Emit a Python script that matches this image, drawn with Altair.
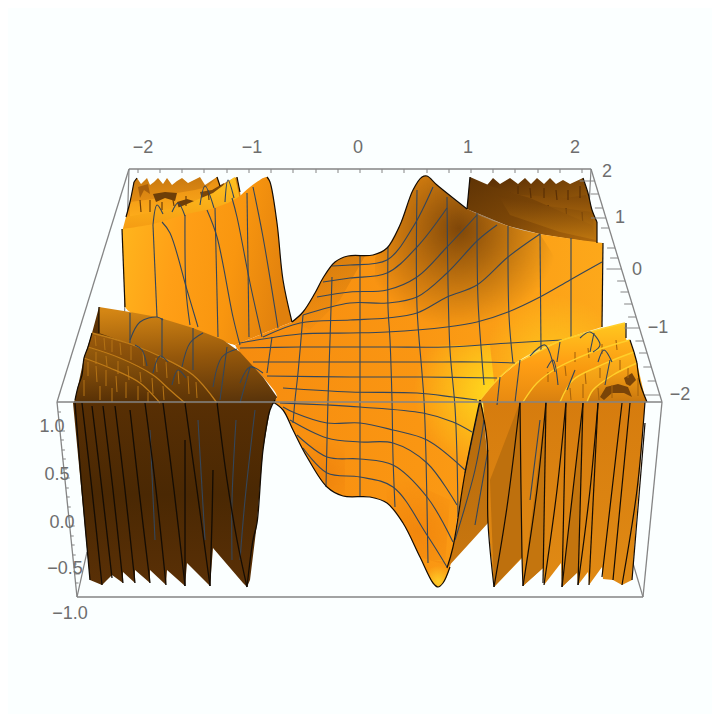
import altair as alt
import pandas as pd

BG = "#FBFFFF"
BOX = "#858585"
TXT = "#6E6E6E"
MESH = "#34465A"
INK = "#140C04"

# ---- surface outlines ----
BACK_LEFT_JAG = [(126,217),(130,202),(134,182),(137,178),(141,184),(147,178),(150,185),(154,182),(158,178),(163,184),(167,178),(172,185),(177,181),(182,178),(188,183),(194,180),(200,177),(205,185),(211,181),(217,177),(220,186),(228,181),(237,177),(240,192),(243,210),(130,225)]
BACK_LEFT_MID = [(130,202),(153,199),(177,193),(195,190),(207,187),(217,177),(224,195),(130,220)]
BACK_LEFT_PATCH_A = [(153,194),(165,192),(177,193),(175,201),(165,198),(156,202)]
BACK_LEFT_PATCH_B = [(177,202),(187,199),(197,202),(195,208),(185,206),(179,209)]
BACK_LEFT_PATCH_C = [(138,187),(148,184),(150,194),(144,190),(140,198)]
BACK_LEFT_PATCH_D = [(200,192),(212,190),(224,183),(222,192),(210,196),(202,199)]
BACK_LEFT_RIDGE = [(126,217),(153,212),(180,207),(213,193),(233,178),(235,177),(239,195),(240,212),(122,232)]
LEFT_WALL = [(122,229),(122,229),(153,224),(183,215),(217,207),(237,198),(250,187),(267,177),(270,182),(277,223),(283,280),(292,322),(292,322),(235,345),(235,345),(130,312),(125,307),(125,307)]
RIGHT_JAG = [(493,178),(500,184),(510,178),(518,184),(525,178),(531,184),(537,178),(544,184),(550,178),(556,184),(563,180),(570,184),(583,178),(588,193),(592,210),(597,222),(597,243),(540,234),(467,209)]
RIGHT_MID = [(490,190),(500,190),(520,195),(540,196),(565,198),(586,195),(592,210),(596,240),(510,220)]
RIGHT_WALL = [(470,177),(493,187),(530,198),(592,225),(597,243),(540,234),(508,226),(467,209)]
RIGHT_STRIP = [(498,195),(540,205),(592,212),(596,240),(560,232),(510,215)]
MAIN_SHEET = [(235,345),(235,345),(292,322),(292,322),(303,312),(315,293),(323,278),(335,262),(348,256),(373,255),(387,248),(400,225),(413,190),(422,177),(427,176),(437,185),(467,209),(508,226),(540,234),(603,243),(603,243),(602,327),(602,327),(560,341),(523,358),(500,377),(480,400),(480,400),(467,470),(458,513),(450,567),(443,583),(438,587),(433,583),(420,557),(403,523),(387,503),(370,497),(343,496),(327,487),(307,457),(293,430),(283,410),(273,402),(273,402),(277,397),(263,377),(243,357)]
SHADE_UPPER = [(375,257),(387,248),(400,225),(413,190),(422,177),(427,176),(437,185),(467,209),(508,226),(540,234),(575,290),(500,345),(410,345),(375,300)]
SHADE_LEFT = [(292,322),(303,312),(315,293),(323,278),(335,262),(348,256),(365,256),(340,300),(310,330)]
GLOW_LOW = [(400,345),(490,345),(495,390),(470,470),(440,480),(400,430)]
GLOW_RIGHT = [(490,290),(603,265),(603,330),(523,358),(490,385)]
TIP_GLOW = [(426,562),(450,562),(443,583),(438,587),(433,583)]
DEEP_LOW = [(297,430),(345,440),(345,495),(327,487),(307,457)]
DEEP_TIP = [(385,470),(450,500),(445,565),(420,557),(403,523),(387,503)]

RIGHT_RIDGE_ONE = [(480,400),(497,380),(517,363),(540,351),(560,341),(597,330),(625,323),(626,338),(640,402),(480,402)]
RIGHT_RIDGE_TWO = [(523,402),(537,383),(557,368),(580,357),(603,348),(630,340),(634,352),(642,402)]
RIGHT_RIDGE_THREE = [(560,402),(573,380),(597,367),(613,360),(634,352),(637,363),(646,402)]
RIGHT_RIDGE_FOUR = [(587,402),(593,390),(613,375),(637,363),(640,383),(647,402)]
RIGHT_SHADE_A = [(560,376),(580,366),(600,360),(625,350),(630,354),(605,365),(590,366),(572,378),(562,392)]
RIGHT_SHADE_B = [(590,383),(602,373),(618,368),(630,362),(632,366),(612,375),(595,387)]
RIGHT_SHADE_C = [(600,397),(606,387),(618,384),(628,387),(632,397),(624,393),(612,393),(604,400)]
RIGHT_SHADE_D = [(624,378),(632,373),(636,380),(630,386),(626,384)]
RIGHT_FIRST = [(480,400),(483,410),(488,462),(488,523),(447,568),(453,547),(465,473)]
RIGHT_SPIKES = [(483,402),(645,402),(632,580),(622,585),(613,580),(603,579),(602,567),(589,585),(588,572),(578,585),(577,572),(562,587),(561,563),(544,585),(543,568),(523,586),(522,558),(494,587),(488,523),(488,462)]
RIGHT_DARK_A = [(490,480),(520,402),(522,557),(494,587)]
RIGHT_DARK_B = [(546,402),(543,568),(523,586)]
RIGHT_DARK_C = [(583,403),(578,572),(562,587)]
RIGHT_DARK_D = [(622,403),(603,570),(612,490)]

DOME_BASE = [(99,307),(277,397),(273,404),(73,404),(75,400),(84,358),(92,333)]
DOME_ONE = [(99,307),(130,312),(157,317),(193,328),(223,340),(240,352),(263,377),(277,397),(273,404),(217,404),(193,375),(157,355),(127,343),(99,333)]
DOME_TWO = [(92,333),(127,343),(157,355),(193,375),(217,403),(185,403),(170,390),(153,375),(120,358),(88,347)]
DOME_THREE = [(88,347),(120,358),(153,375),(170,390),(185,403),(160,403),(140,383),(110,368),(84,358)]
DOME_FOUR = [(84,358),(110,368),(140,383),(160,403),(73,403),(75,400),(78,387),(82,375)]
FRONT_LEFT = [(73,403),(273,402),(270,410),(263,450),(257,523),(250,580),(247,587),(243,583),(213,548),(210,586),(187,563),(185,586),(167,570),(166,585),(150,570),(150,583),(135,570),(135,583),(123,572),(123,583),(112,575),(102,585),(90,580)]

# ---- rims along ripple crests ----
RIMS_RIGHT = [[(480,400),(497,380),(517,363),(540,351),(560,341),(597,330),(625,323)],
              [(523,402),(537,383),(557,368),(580,357),(603,348),(630,340)],
              [(560,402),(573,380),(597,367),(613,360),(634,352)],
              [(587,402),(593,390),(613,375),(637,363)]]
RIMS_LEFT = [[(92,333),(127,343),(157,355),(193,375),(217,403)],
             [(88,347),(120,358),(153,375),(170,390),(185,403)],
             [(84,358),(110,368),(140,383),(160,403)]]

# ---- fine streaks on the ripples ----
STREAKS_BRIGHT = [[(95,336),(96,346)],[(104,338),(105,350)],[(112,340),(112,352)],[(120,343),(121,355)],[(131,346),(131,360)],
                  [(143,352),(144,366)],[(156,358),(157,372)],[(166,362),(167,378)],[(178,370),(179,384)],[(188,376),(189,394)],
                  [(196,382),(197,398)],[(96,352),(96,364)],[(106,356),(107,366)],[(118,361),(118,374)],[(128,366),(129,380)],
                  [(140,372),(141,382)],[(152,378),(153,394)],[(163,386),(164,400)],[(88,362),(88,376)],[(96,366),(97,382)],
                  [(106,370),(106,386)],[(116,376),(117,392)],[(126,382),(126,398)],[(138,386),(138,400)],[(148,392),(148,402)],
                  [(84,380),(84,396)],[(100,386),(100,400)],[(112,388),(112,402)]]
STREAKS_DARK = [[(140,200),(141,212)],[(150,200),(150,212)],[(162,202),(162,210)],[(173,200),(174,206)],[(186,196),(186,206)],
                [(208,190),(209,200)],[(518,186),(518,194)],[(530,188),(531,198)],[(544,188),(544,198)],[(556,190),(557,200)],
                [(568,190),(568,200)],[(580,186),(580,198)],[(530,200),(531,212)],[(548,205),(549,218)],[(566,208),(567,222)],
                [(582,212),(583,226)],[(510,192),(511,206)]]
STREAKS_RIGHT = [[(575,352),(575,362)],[(588,348),(589,358)],[(602,344),(602,354)],[(616,340),(617,350)],[(548,372),(548,382)],
                 [(565,366),(566,376)],[(585,372),(586,384)],[(600,368),(600,378)],[(620,360),(620,370)],[(570,388),(571,400)],
                 [(583,384),(583,398)],[(628,368),(628,378)],[(598,388),(599,400)],[(612,385),(612,398)],[(638,378),(638,396)]]

# ---- black spike edges on the near walls ----
SPIKES_LEFT = [
    [(75,403),(82,490),(90,580)], [(82,403),(92,490),(102,585)], [(92,406),(102,490),(112,578)],
    [(103,406),(113,490),(123,583)], [(115,406),(125,490),(135,583)], [(130,410),(139,490),(150,583)],
    [(145,403),(156,490),(166,585)], [(163,403),(174,490),(185,586)], [(185,403),(197,490),(210,586)],
    [(217,402),(227,480),(237,540),(247,587)], [(185,440),(185,500),(185,586)], [(213,470),(212,520),(210,586)],
    [(247,587),(253,540),(257,523),(263,450),(270,410),(275,400)],
]
SPIKES_RIGHT = [
    [(480,400),(465,473),(453,547),(447,568)], [(480,400),(487,440),(488,523),(494,587)], [(494,587),(507,507),(520,402)],
    [(520,402),(522,557),(523,586)], [(523,586),(537,490),(546,402)], [(546,402),(543,583)],
    [(544,585),(557,490),(566,402)], [(566,402),(562,587)], [(562,587),(573,490),(583,403)],
    [(583,403),(578,585)], [(578,585),(590,490),(598,403)], [(598,403),(589,585)],
    [(602,577),(612,490),(622,403)], [(613,580),(630,403)], [(622,585),(637,490),(645,402)], [(632,580),(645,423)],
]
SILHOUETTES = [
    [(292,322),(303,312),(315,293),(323,278),(335,262),(348,256),(373,255),(387,248),(400,225),(413,190),(422,177),(427,176),(437,185),(467,209)],
    [(273,402),(283,410),(293,430),(307,457),(327,487),(343,496),(370,497),(387,503),(403,523),(420,557),(433,583),(438,587),(443,583),(450,567)],
    [(267,177),(270,182),(277,223),(283,280),(292,322)], [(122,229),(125,307)],
    [(603,243),(602,327)], [(597,222),(597,243)], [(470,177),(467,209)], [(583,178),(588,193),(592,210),(597,222)],
    [(134,182),(137,178)], [(217,177),(220,186)], [(237,177),(240,192)], [(126,217),(130,202),(134,182)],
    [(626,323),(626,338)], [(630,340),(634,352)], [(634,352),(637,363)], [(637,363),(640,383),(647,402)],
    [(92,333),(88,347),(84,358),(82,375),(78,387),(75,400)], [(99,307),(99,333)],
]

# ---- mesh curves ----
MESH_SHEET = [
    [(360,256),(360,400),(360,497)],
    [(388,247),(388,307),(390,340),(392,400),(393,457),(395,507)],
    [(417,190),(417,307),(422,373),(424,400),(426,457),(428,563)],
    [(447,197),(448,283),(450,350),(455,407),(457,457),(458,517)],
    [(477,213),(478,300),(482,360),(484,385)],
    [(508,226),(509,316),(513,363)],
    [(540,234),(541,350)],
    [(571,238),(571,337)],
    [(332,277),(330,340),(328,400),(326,487)],
    [(303,315),(298,373),(295,400),(293,423)],
    [(272,337),(267,373)],
    [(332,266),(350,265),(387,260),(413,227),(433,187)],
    [(323,282),(350,278),(387,273),(417,247),(447,208)],
    [(317,297),(350,292),(387,290),(417,277),(447,247),(477,215)],
    [(303,315),(350,303),(387,303),(417,297),(447,273),(478,240),(497,225)],
    [(263,337),(300,323),(350,320),(387,318),(417,313),(447,297),(477,285),(508,257),(540,234)],
    [(240,343),(300,334),(350,333),(387,332),(447,327),(477,322),(508,312),(540,297),(570,280),(602,262)],
    [(240,348),(300,347),(350,347),(390,347),(447,347),(510,343),(562,340)],
    [(253,362),(350,362),(422,362),(480,362),(515,363)],
    [(267,376),(350,377),(422,377),(497,378)],
    [(283,388),(350,392),(417,393),(453,397),(477,400)],
    [(280,403),(327,405),(360,407),(423,413),(453,422),(472,432)],
    [(283,407),(295,413),(327,423),(360,423),(393,430),(427,440),(465,470)],
    [(290,420),(327,438),(360,442),(393,443),(427,463),(457,505)],
    [(297,435),(327,457),(360,459),(393,465),(427,497),(453,542)],
    [(303,448),(327,473),(360,477),(393,487),(427,535),(447,567)],
]
MESH_WALL = [
    [(153,225),(157,317)], [(162,222),(170,233),(187,290),(198,327)], [(215,208),(218,337)],
    [(207,210),(217,237),(233,317),(240,345)], [(232,198),(237,217),(250,283),(262,337)],
    [(247,193),(249,337)], [(253,187),(263,237),(278,328)], [(185,215),(186,290),(190,325)],
    [(153,225),(157,205),(163,214)], [(172,212),(178,203),(185,216)], [(200,205),(205,186),(214,208)], [(225,202),(228,180),(234,198)],
]
MESH_DOME = [
    [(130,313),(130,343)], [(130,340),(140,322),(157,317),(163,320)], [(162,318),(162,358)],
    [(193,328),(193,370)], [(182,367),(190,343),(203,333)], [(227,347),(220,400)],
    [(213,387),(222,357),(237,349)], [(250,367),(240,403)], [(240,383),(250,367),(263,373)],
    [(135,345),(142,350),(147,366)], [(153,373),(160,356),(168,362)], [(172,385),(178,370),(186,378)],
    [(236,420),(232,500),(232,560)], [(255,410),(245,500),(240,560)], [(150,430),(155,540)], [(198,420),(205,540)],
]
MESH_RIDGE = [
    [(500,377),(497,405)], [(520,360),(515,402)], [(530,356),(545,345),(555,372)], [(560,342),(557,362)],
    [(580,338),(590,332),(600,345),(593,352)], [(594,333),(590,352)], [(610,360),(605,385)], [(567,390),(575,370)],
    [(465,473),(480,402)], [(455,540),(475,470),(484,420)], [(475,525),(488,450)], [(530,500),(540,420)],
    [(547,368),(553,360),(558,385)], [(598,362),(604,350),(612,362)],
]

# ---- axes ----
BOX_BACK = [[(129,169),(122,395)], [(591,169),(579,395)], [(77,597),(87,552)], [(643,597),(632,560)]]
BOX_FRONT = [[(129,169),(591,169)], [(129,169),(57,402)], [(591,169),(662,402)], [(57,402),(662,402)],
             [(57,402),(77,597)], [(662,402),(643,597)], [(77,597),(643,597)]]
TOP_TICK_X = [138,160,182,204,227,249,271,293,316,338,360,382,404,427,449,471,493,515,538,560,582]
RIGHT_TICK_Y = [181,194,208,218,228,248,258,269,281,292,304,317,328,341,353,367,381,395]
RIGHT_TICK_MAJOR = [181,218,269,328,395]
LEFT_TICK_Y = [412,421,431,440,450,459,469,478,488,497,507,517,526,536,545,555,564,574,583]
LEFT_TICK_MAJOR = [431,478,526,574]
LABEL_TEXT = ["−2","−1","0","1","2","2","1","0","−1","−2","1.0","0.5","0.0","−0.5","−1.0"]
LABEL_X = [143,252,358,468,575,607,620,637,658,680,52,57,62,65,70]
LABEL_Y = [148,148,148,148,148,172,218,270,328,395,427,475,523,569,614]

X = alt.X("x:Q", scale=alt.Scale(domain=[8,712]), axis=None)
Y = alt.Y("y:Q", scale=alt.Scale(domain=[8,714], reverse=True), axis=None)


def grad(stops, x1=0, y1=0, x2=0, y2=1):
    n = len(stops) - 1
    return {"gradient": "linear", "x1": x1, "y1": y1, "x2": x2, "y2": y2,
            "stops": [{"offset": i / n, "color": c} for i, c in enumerate(stops)]}


def glow(color, cx, cy, alpha=0.85, r=0.6):
    return {"gradient": "radial", "x1": cx, "y1": cy, "r1": 0, "x2": cx, "y2": cy, "r2": r,
            "stops": [{"offset": 0, "color": f"rgba({color},{alpha})"}, {"offset": 1, "color": f"rgba({color},0)"}]}


def poly(points, fill, interp="linear"):
    rows = [{"x": p[0], "y": p[1], "i": i} for i, p in enumerate(list(points) + [points[0]])]
    return alt.Chart(pd.DataFrame(rows)).mark_line(fill=fill, strokeWidth=0, stroke=None, interpolate=interp).encode(x=X, y=Y, order="i:Q")


def curves(lines, color, width, interp="catmull-rom"):
    rows = [{"x": p[0], "y": p[1], "i": i, "k": k} for k, line in enumerate(lines) for i, p in enumerate(line)]
    return alt.Chart(pd.DataFrame(rows)).mark_line(color=color, strokeWidth=width, interpolate=interp).encode(
        x=X, y=Y, order="i:Q", detail="k:N")


def ticks(rows, width=1):
    return alt.Chart(pd.DataFrame(rows)).mark_rule(color=BOX, strokeWidth=width).encode(
        x=X, y=Y, x2="x2:Q", y2="y2:Q")


top_rows = [{"x": t, "x2": t, "y": 169, "y2": 173} for t in TOP_TICK_X]
right_rows = []
for t in RIGHT_TICK_Y:
    edge = 591 + (t - 169) * 71 / 233
    right_rows.append({"x": edge, "x2": edge - (15 if t in RIGHT_TICK_MAJOR else 8), "y": t, "y2": t})
left_rows = []
for t in LEFT_TICK_Y:
    edge = 57 + (t - 402) * 20 / 195
    left_rows.append({"x": edge, "x2": edge + (5 if t in LEFT_TICK_MAJOR else 3), "y": t, "y2": t})

labels = pd.DataFrame({"x": LABEL_X, "y": LABEL_Y, "t": LABEL_TEXT})

layers = [
    curves(BOX_BACK, BOX, 1.2, "linear"),
    poly(BACK_LEFT_JAG, grad(["#C97A10", "#FF9F16"])),
    poly(BACK_LEFT_MID, grad(["#E88E12", "#FFAE1B"])),
    poly(BACK_LEFT_PATCH_A, "#6E3E08"), poly(BACK_LEFT_PATCH_B, "#6E3E08"),
    poly(BACK_LEFT_PATCH_C, "#A85F0B"), poly(BACK_LEFT_PATCH_D, "#7C4608"),
    poly(BACK_LEFT_RIDGE, grad(["#FFC21F", "#F59A12"])),
    curves(STREAKS_DARK[:6], "#6E3E08", 1.2, "linear"),
    poly(LEFT_WALL, grad(["#FFB51D", "#FF9F16", "#F9960F", "#E0800D"], 0, 0.3, 1, 0.5), "catmull-rom"),
    poly(RIGHT_JAG, grad(["#5A2F05", "#8C5209", "#B8720E"], 0.2, 0, 0.8, 1)),
    poly(RIGHT_MID, grad(["#7A4407", "#C47A10"])),
    curves(STREAKS_DARK[6:], "#5A2F05", 1.2, "linear"),
    poly(RIGHT_WALL, grad(["#5E3305", "#7C4607", "#B26A0C"], 0, 0, 1, 1)),
    poly(RIGHT_STRIP, grad(["rgba(107,58,6,0.5)", "rgba(194,122,16,0.8)"])),
    poly(MAIN_SHEET, grad(["#F68C0F", "#FA9612", "#FDA81A"], 0, 0.5, 1, 0.5), "catmull-rom"),
    poly(SHADE_UPPER, glow("120,66,8", 0.42, 0.34, 0.95, 0.5)),
    poly(SHADE_LEFT, grad(["rgba(190,110,12,0.55)", "rgba(190,110,12,0)"], 0.6, 0, 0.9, 0.9)),
    poly(GLOW_LOW, glow("255,222,30", 0.85, 0.35, 0.95)),
    poly(GLOW_RIGHT, glow("255,205,30", 0.55, 0.85)),
    poly(DEEP_LOW, glow("235,125,10", 0.5, 0.7, 0.7)),
    poly(DEEP_TIP, glow("238,128,10", 0.5, 0.65, 0.7)),
    poly(TIP_GLOW, glow("255,205,40", 0.5, 0.8, 1), "catmull-rom"),
    curves(MESH_WALL, MESH, 1.1),
    curves(MESH_SHEET, MESH, 1.1),
    poly(RIGHT_SPIKES, grad(["#D67C0E", "#E08A14"])),
    poly(RIGHT_DARK_A, "#BE700D"), poly(RIGHT_DARK_B, "#C4750E"),
    poly(RIGHT_DARK_C, "#C4750E"), poly(RIGHT_DARK_D, "#BE700D"),
    poly(RIGHT_FIRST, grad(["#B2690C", "#CA770F"])),
    poly(RIGHT_RIDGE_ONE, grad(["#FFC81F", "#FF9F14", "#E88A10"])),
    poly(RIGHT_SHADE_A, "#7A4408"),
    poly(RIGHT_RIDGE_TWO, grad(["#FFB41B", "#F8980F", "#D88010"])),
    poly(RIGHT_SHADE_B, "#6C3C07"),
    poly(RIGHT_RIDGE_THREE, grad(["#FFB41B", "#E88E10"])),
    poly(RIGHT_RIDGE_FOUR, grad(["#FFA816", "#C9770E"])),
    poly(RIGHT_SHADE_C, "#7A4408"), poly(RIGHT_SHADE_D, "#7A4408"),
    curves(STREAKS_RIGHT, "#A8640C", 1.1, "linear"),
    curves(RIMS_RIGHT, "#FFCF2A", 1.4),
    poly(FRONT_LEFT, grad(["#582F04", "#4A2803", "#5A3006"])),
    poly(DOME_BASE, "#5C3305"),
    poly(DOME_ONE, grad(["#D48614", "#96580B", "#5A340A"], 0.45, 0, 0.55, 1)),
    poly(DOME_TWO, grad(["#9A5A0C", "#5E3506"], 0.45, 0, 0.55, 1)),
    poly(DOME_THREE, grad(["#945A0C", "#5A3206"], 0.45, 0, 0.55, 1)),
    poly(DOME_FOUR, grad(["#90560C", "#542E05"], 0.45, 0, 0.55, 1)),
    curves(STREAKS_BRIGHT, "#B47214", 1, "linear"),
    curves(RIMS_LEFT, "#C07C18", 1.3),
    curves(MESH_DOME, MESH, 1.1),
    curves(MESH_RIDGE, MESH, 1.1),
    curves(SPIKES_LEFT, INK, 1.3),
    curves(SPIKES_RIGHT, INK, 1.2),
    curves(SILHOUETTES, INK, 1.2),
    curves(BOX_FRONT, BOX, 1.3, "linear"),
    ticks(top_rows), ticks(right_rows), ticks(left_rows),
    alt.Chart(labels).mark_text(font="Liberation Sans", fontSize=18, color=TXT).encode(x=X, y=Y, text="t:N"),
]

chart = alt.layer(*layers).properties(
    width=704, height=706, background=BG, padding=0,
    autosize=alt.AutoSizeParams(type="none"),
).configure_view(stroke=None)

chart.save("out.html", embed_options={"renderer": "svg", "actions": False})
